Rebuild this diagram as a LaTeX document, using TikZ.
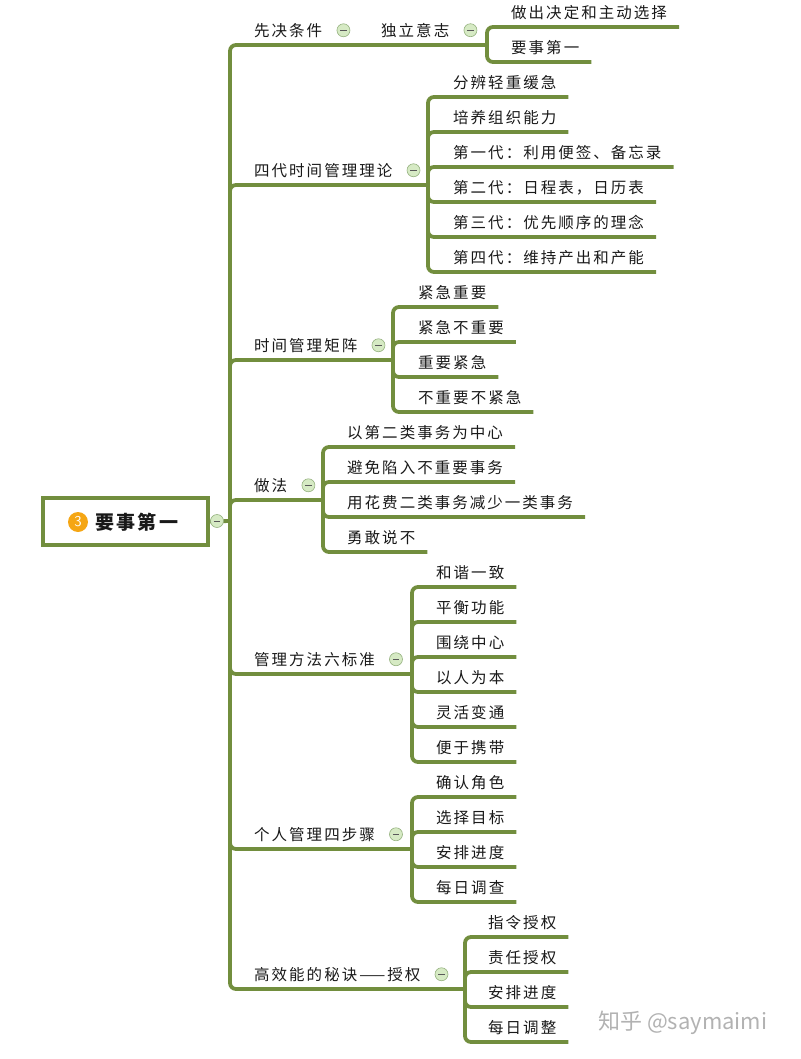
\documentclass[tikz,border=0pt]{standalone}
\usepackage{fontspec}
\usetikzlibrary{calc}
\newfontfamily\cjk[LetterSpace=13]{Noto Sans CJK SC}
\newfontfamily\cjkroot[LetterSpace=12]{Noto Sans CJK SC}
\newfontfamily\cjkmark{Noto Sans CJK SC}
\definecolor{branchgreen}{RGB}{114,142,62}
\definecolor{foldfill}{RGB}{214,234,196}
\definecolor{folddraw}{RGB}{150,178,128}
\definecolor{numorange}{RGB}{245,166,20}

\begin{document}
\begin{tikzpicture}[x=1pt,y=-1pt,
  branch/.style={draw=branchgreen,line width=3.8pt,rounded corners=6pt},
  topic/.style={anchor=south west,inner xsep=0pt,inner ysep=8pt,text depth=0pt,text=black!90,font=\cjk\fontsize{15.5}{18}\selectfont},
  fold/.style={circle,draw=folddraw,fill=foldfill,line width=0.6pt,minimum size=13pt,inner sep=0pt,
    path picture={\draw[black!65,line width=0.7pt] ([xshift=-3.2pt]path picture bounding box.center) -- ([xshift=3.2pt]path picture bounding box.center);}}]
  \useasboundingbox (0,0) rectangle (800,1059);

  \node[draw=branchgreen,line width=3.2pt,minimum width=165pt,minimum height=47pt,inner sep=0pt](root)at(125.5,521.5){};
  \node[circle,fill=numorange,minimum size=20pt,inner sep=0pt,text=white,font=\sffamily\fontsize{15}{15}\selectfont](num)at(78,522){3};
  \node[anchor=west,inner sep=0pt,text=black!90,font=\cjkroot\bfseries\fontsize{19}{22}\selectfont](title)at(95,522){要事第一};

  \coordinate (jroot) at (230,521);
  \coordinate (jpre) at (362,45);
  \coordinate (jwill) at (487,45);
  \coordinate (jgen) at (428,185);
  \coordinate (jmat) at (393,360);
  \coordinate (jway) at (323,500);
  \coordinate (jstd) at (412,674);
  \coordinate (jsteps) at (412,849);
  \coordinate (jauth) at (465,989);

  \node[topic](pre)at(254,45){先决条件};
  \node[topic](will)at(381,45){独立意志};
  \node[topic](gen)at(254,185){四代时间管理理论};
  \node[topic](mat)at(254,360){时间管理矩阵};
  \node[topic](way)at(254,500){做法};
  \node[topic](std)at(254,674){管理方法六标准};
  \node[topic](steps)at(254,849){个人管理四步骤};
  \node[topic](auth)at(254,989){高效能的秘诀——授权};

  \draw[branch] (root.east) -- (jroot);
  \foreach \j in {jpre,jgen,jmat,jway,jstd,jsteps,jauth}
    \draw[branch] (jroot) |- (\j);
  \draw[branch] (jpre) -- (jwill);

  \foreach \txt [count=\i] in {做出决定和主动选择,要事第一}{
    \node[topic](will\i)at(511,{-8+35*\i}){\txt};
    \draw[branch] (jwill) |- ([xshift=12pt]will\i.south east);
  }
  \foreach \txt [count=\i] in {分辨轻重缓急,培养组织能力,第一代：利用便签、备忘录,第二代：日程表，日历表,第三代：优先顺序的理念,第四代：维持产出和产能}{
    \node[topic](gen\i)at(453,{62+35*\i}){\txt};
    \draw[branch] (jgen) |- ([xshift=12pt]gen\i.south east);
  }
  \foreach \txt [count=\i] in {紧急重要,紧急不重要,重要紧急,不重要不紧急}{
    \node[topic](mat\i)at(418,{272+35*\i}){\txt};
    \draw[branch] (jmat) |- ([xshift=12pt]mat\i.south east);
  }
  \foreach \txt [count=\i] in {以第二类事务为中心,避免陷入不重要事务,用花费二类事务减少一类事务,勇敢说不}{
    \node[topic](way\i)at(347,{412+35*\i}){\txt};
    \draw[branch] (jway) |- ([xshift=12pt]way\i.south east);
  }
  \foreach \txt [count=\i] in {和谐一致,平衡功能,围绕中心,以人为本,灵活变通,便于携带}{
    \node[topic](std\i)at(436,{552+35*\i}){\txt};
    \draw[branch] (jstd) |- ([xshift=12pt]std\i.south east);
  }
  \foreach \txt [count=\i] in {确认角色,选择目标,安排进度,每日调查}{
    \node[topic](steps\i)at(436,{762+35*\i}){\txt};
    \draw[branch] (jsteps) |- ([xshift=12pt]steps\i.south east);
  }
  \foreach \txt [count=\i] in {指令授权,责任授权,安排进度,每日调整}{
    \node[topic](auth\i)at(488,{902+35*\i}){\txt};
    \draw[branch] (jauth) |- ([xshift=12pt]auth\i.south east);
  }

  \node[fold](froot)at(217,521){};
  \foreach \n in {pre,will,gen,mat,way,std,steps,auth}
    \node[fold](f\n)at([xshift=21pt]\n.east){};

  \node[anchor=west,inner sep=0pt,text=black!30,font=\cjkmark\fontsize{22}{24}\selectfont](mark)at(598,1023){知乎 @saymaimi};
\end{tikzpicture}
\end{document}
